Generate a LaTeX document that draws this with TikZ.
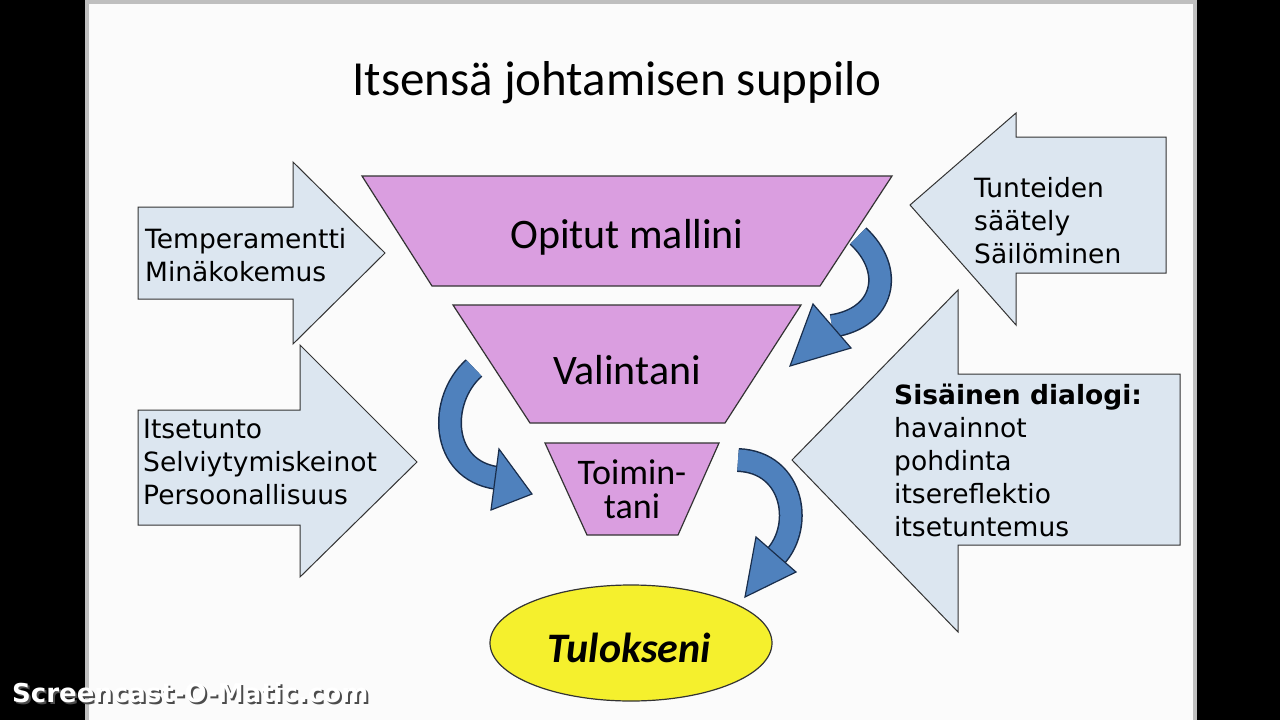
\documentclass[tikz,border=0pt]{standalone}
\usepackage{fontspec}
\setmainfont{Carlito}
\newfontfamily\verd{DejaVu Sans}
\usetikzlibrary{shapes.geometric}
\definecolor{trap}{RGB}{218,158,224}
\definecolor{side}{RGB}{220,230,240}
\definecolor{cblue}{RGB}{79,129,189}
\definecolor{cdark}{RGB}{25,45,75}
\definecolor{yel}{RGB}{245,240,45}
\definecolor{slide}{RGB}{251,251,251}
\tikzset{
 trapz/.style={fill=trap,draw=black!80,line width=1.2pt},
 sidearr/.style={fill=side,draw=black!80,line width=1pt},
 sidetxt/.style={font=\verd\fontsize{26.5}{33}\selectfont,align=left,anchor=north west,inner sep=0pt},
 ftxt/.style={font=\fontsize{42}{44}\selectfont},
 cband/.style={draw=cdark,line width=24pt},
 cbandin/.style={draw=cblue,line width=21pt},
 chead/.style={fill=cblue,draw=cdark,line width=1.2pt,line join=miter},
 sctxt/.style={font=\verd\bfseries\fontsize{26}{28}\selectfont,anchor=west,inner sep=0pt},
}
\begin{document}
\begin{tikzpicture}[x=1pt,y=-1pt]
\fill[black] (0,0) rectangle (1280,720);
\fill[black!25] (85,0) rectangle (1197,720);
\fill[slide] (89,4) rectangle (1193,720);
\useasboundingbox (0,0) rectangle (1280,720);
\node[font=\fontsize{49}{52}\selectfont] (title) at (617,83) {Itsensä johtamisen suppilo};
% side arrows
\draw[sidearr] (138,207) -- (293,207) -- (293,162) -- (385,253) -- (293,344) -- (293,299) -- (138,299) -- cycle;
\draw[sidearr] (138,410) -- (300,410) -- (300,345) -- (417,462) -- (300,577) -- (300,525) -- (138,525) -- cycle;
\draw[sidearr] (1166,137) -- (1016,137) -- (1016,113) -- (910,205) -- (1016,325) -- (1016,273) -- (1166,273) -- cycle;
\draw[sidearr] (1180,374) -- (958,374) -- (958,290) -- (792,460) -- (958,632) -- (958,545) -- (1180,545) -- cycle;
\node[sidetxt] (t1) at (145,228) {Temperamentti\\Minäkokemus};
\node[sidetxt] (t2) at (143,419) {Itsetunto\\Selviytymiskeinot\\Persoonallisuus};
\node[sidetxt] (t3) at (974,177) {Tunteiden\\säätely\\Säilöminen};
\node[sidetxt] (t4) at (894,384) {\textbf{Sisäinen dialogi:}\\havainnot\\pohdinta\\itsereflektio\\itsetuntemus};
% funnel
\draw[trapz] (362,176) -- (892,176) -- (820,286) -- (432,286) -- cycle;
\draw[trapz] (453,305) -- (801,305) -- (725,423) -- (530,423) -- cycle;
\draw[trapz] (545,443) -- (719,443) -- (678,535) -- (587,535) -- cycle;
\node[ftxt] (f1) at (627,237) {Opitut mallini};
\node[ftxt] (f2) at (627,370) {Valintani};
\node[font=\fontsize{36}{34}\selectfont,align=center] (f3) at (632,489) {Toimin-\\tani};
% result
\node[ellipse,fill=yel,draw=black!80,line width=1.2pt,minimum width=282pt,minimum height=116pt] (res) at (631,643) {};
\node[font=\fontsize{42}{44}\selectfont\bfseries\itshape] (rt) at (629,648) {Tulokseni};
% curved arrows
\draw[cband] (858,236) .. controls (895,270) and (885,318) .. (832,326);
\draw[cbandin] (858,236) .. controls (895,270) and (885,318) .. (832,326);
\draw[chead] (851,348) -- (790,366) -- (813,304) -- cycle;
\draw[cband] (474,368) .. controls (438,400) and (440,470) .. (497,478);
\draw[cbandin] (474,368) .. controls (438,400) and (440,470) .. (497,478);
\draw[chead] (499,449) -- (532,494) -- (491,510) -- cycle;
\draw[cband] (738,460) .. controls (795,462) and (805,530) .. (772,560);
\draw[cbandin] (738,460) .. controls (795,462) and (805,530) .. (772,560);
\draw[chead] (756,537) -- (796,572) -- (745,597) -- cycle;
\node[sctxt,text=black!70] (scs) at (14,695) {Screencast-O-Matic.com};
\node[sctxt,text=white] (sc) at (12,693) {Screencast-O-Matic.com};
\end{tikzpicture}
\end{document}
